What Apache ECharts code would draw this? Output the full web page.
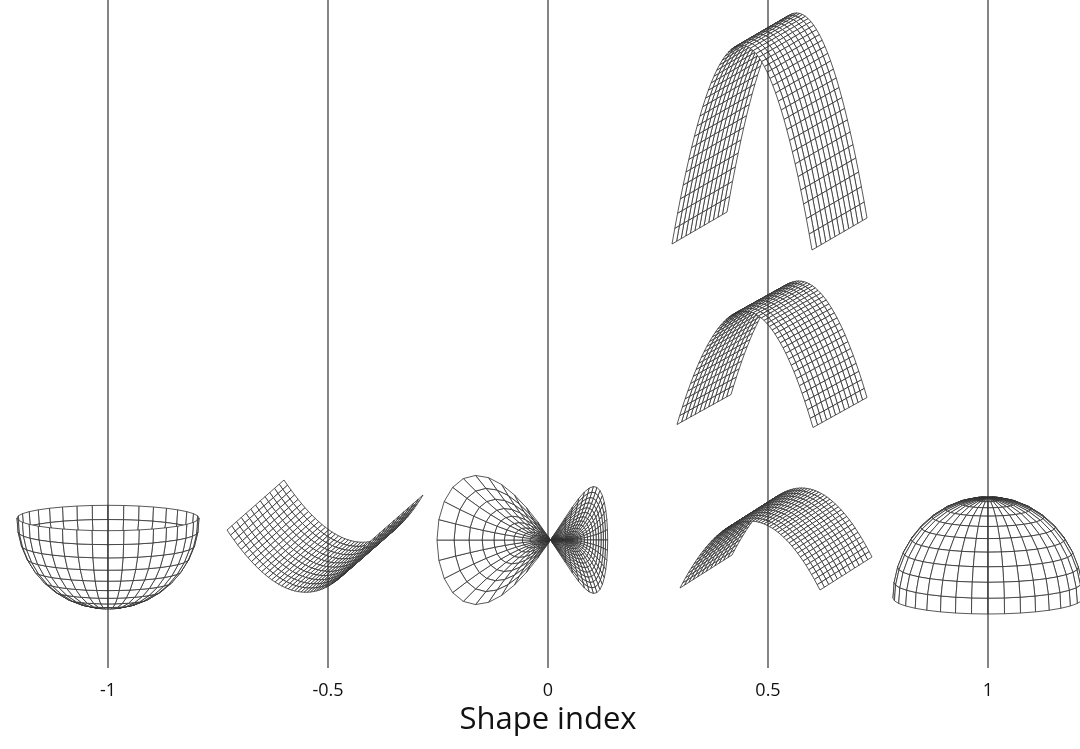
<!DOCTYPE html>
<html><head><meta charset="utf-8">
<script src="https://cdn.jsdelivr.net/npm/echarts@6/dist/echarts.min.js"></script>
<style>html,body{margin:0;padding:0;background:#fff}#c{width:1080px;height:749px}</style>
</head><body><div id="c"></div>
<script>
// Shape index tick values
const tickValues = [-1, -0.5, 0, 0.5, 1];
// Surfaces: shape index where each is placed, and kind
const shapeNames = ['cup', 'rut', 'saddle', 'ridgeBig', 'ridgeMid', 'ridgeSmall', 'cap'];
const shapeIndex = [-1, -0.5, 0, 0.5, 0.5, 0.5, 1];
const shapeRow = [518, 592, 540, 247, 426, 589, 598];

// geometry / view settings (styles, not data)
const views = {
  cup:       {dx: 0, ex:[91,0], ey:[0,-12.7], ez:[0,-90], d:[0,1,0.14], nu:10, nv:36, f:'bowl'},
  cap:       {dx: 0, ex:[95,0], ey:[0,-16], ez:[0,-100], d:[0,1,-0.16], nu:10, nv:36, f:'dome'},
  ridgeBig:  {dx:-26, ex:[70,3], ey:[55,-32], ez:[0,-202], d:[0,1,0], nu:50, nv:12, f:'ridge'},
  ridgeMid:  {dx:-23, ex:[68,1.5], ey:[54,-30], ez:[0,-115], d:[0,1,0], nu:50, nv:12, f:'ridge'},
  ridgeSmall:{dx:-18, ex:[70,1], ey:[52,-33], ez:[0,-68], d:[0,1,0], nu:50, nv:12, f:'ridge'},
  rut:       {dx:-27, ex:[69.5,7.5], ey:[57,-50], ez:[-4.5,-54.5], d:[0,1,0], nu:44, nv:12, f:'rut'},
  saddle:    {dx: 17, ex:[64,0], ey:[0,-22], ez:[0,-54], d:[1,0.3,0], p:0.5, nu:14, nv:52, f:'saddle'}
};
const surf = {
  bowl: (u,v)=>{const t=u*Math.PI/2,p=v*2*Math.PI;return [Math.sin(t)*Math.cos(p),Math.sin(t)*Math.sin(p),-Math.cos(t)];},
  dome: (u,v)=>{const t=u*Math.PI/2,p=v*2*Math.PI;return [Math.sin(t)*Math.cos(p),Math.sin(t)*Math.sin(p),Math.cos(t)];},
  ridge:(u,v)=>{const x=2*u-1;return [x,v,1-x*x];},
  rut:  (u,v)=>{const x=2*u-1;return [x,v,x*x];},
  saddle:(u,v)=>{const x=u*Math.cos(v*2*Math.PI),y=u*Math.sin(v*2*Math.PI);return [x,y,2*x*y];}
};

function renderItem(params, api) {
  const i = api.value(0);
  const name = shapeNames[i];
  const vw = views[name];
  const c = api.coord([shapeIndex[i], shapeRow[i]]);
  c[0] += vw.dx;
  const proj = (P) => {
    const f = vw.p ? 1/(1+vw.p*P[0]) : 1;
    return [c[0] + f*(P[0]*vw.ex[0]+P[1]*vw.ey[0]+P[2]*vw.ez[0]),
            c[1] + f*(P[0]*vw.ex[1]+P[1]*vw.ey[1]+P[2]*vw.ez[1])];
  };
  const dep = (P) => P[0]*vw.d[0]+P[1]*vw.d[1]+P[2]*vw.d[2];
  const fn = surf[vw.f];
  const quads = [];
  for (let a=0;a<vw.nu;a++) for (let b=0;b<vw.nv;b++) {
    const P = [fn(a/vw.nu,b/vw.nv), fn((a+1)/vw.nu,b/vw.nv), fn((a+1)/vw.nu,(b+1)/vw.nv), fn(a/vw.nu,(b+1)/vw.nv)];
    const dd = (dep(P[0])+dep(P[1])+dep(P[2])+dep(P[3]))/4;
    quads.push({dd, pts: P.map(proj)});
  }
  quads.sort((q1,q2)=>q2.dd-q1.dd);
  return {type:'group', children: quads.map(q=>({
    type:'polygon', shape:{points:q.pts},
    style:{fill:'#fff', stroke:'#2e2e2e', lineWidth:0.8}
  }))};
}

const chart = echarts.init(document.getElementById('c'));
chart.setOption({
  animation:false,
  grid:{left:108,right:92,top:0,bottom:81},
  xAxis:{type:'value',min:-1,max:1,interval:0.5,
    axisLine:{show:false},axisTick:{show:false},splitLine:{show:false},
    axisLabel:{color:'#111',fontSize:18,margin:14,fontFamily:'Open Sans, Liberation Sans',
      formatter:v=>String(v)},
    name:'Shape index',nameLocation:'middle',nameGap:36,
    nameTextStyle:{color:'#111',fontSize:31,fontFamily:'Open Sans, Liberation Sans'}},
  yAxis:{type:'value',min:0,max:668,inverse:true,show:false},
  series:[
    {type:'custom',renderItem,data:shapeNames.map((n,i)=>[i]),z:2,silent:true},
    ...tickValues.map(t=>({type:'line',data:[[t,0],[t,668]],symbol:'none',z:5,silent:true,
      lineStyle:{color:'#333',width:1.2}}))
  ]
});
</script></body></html>
